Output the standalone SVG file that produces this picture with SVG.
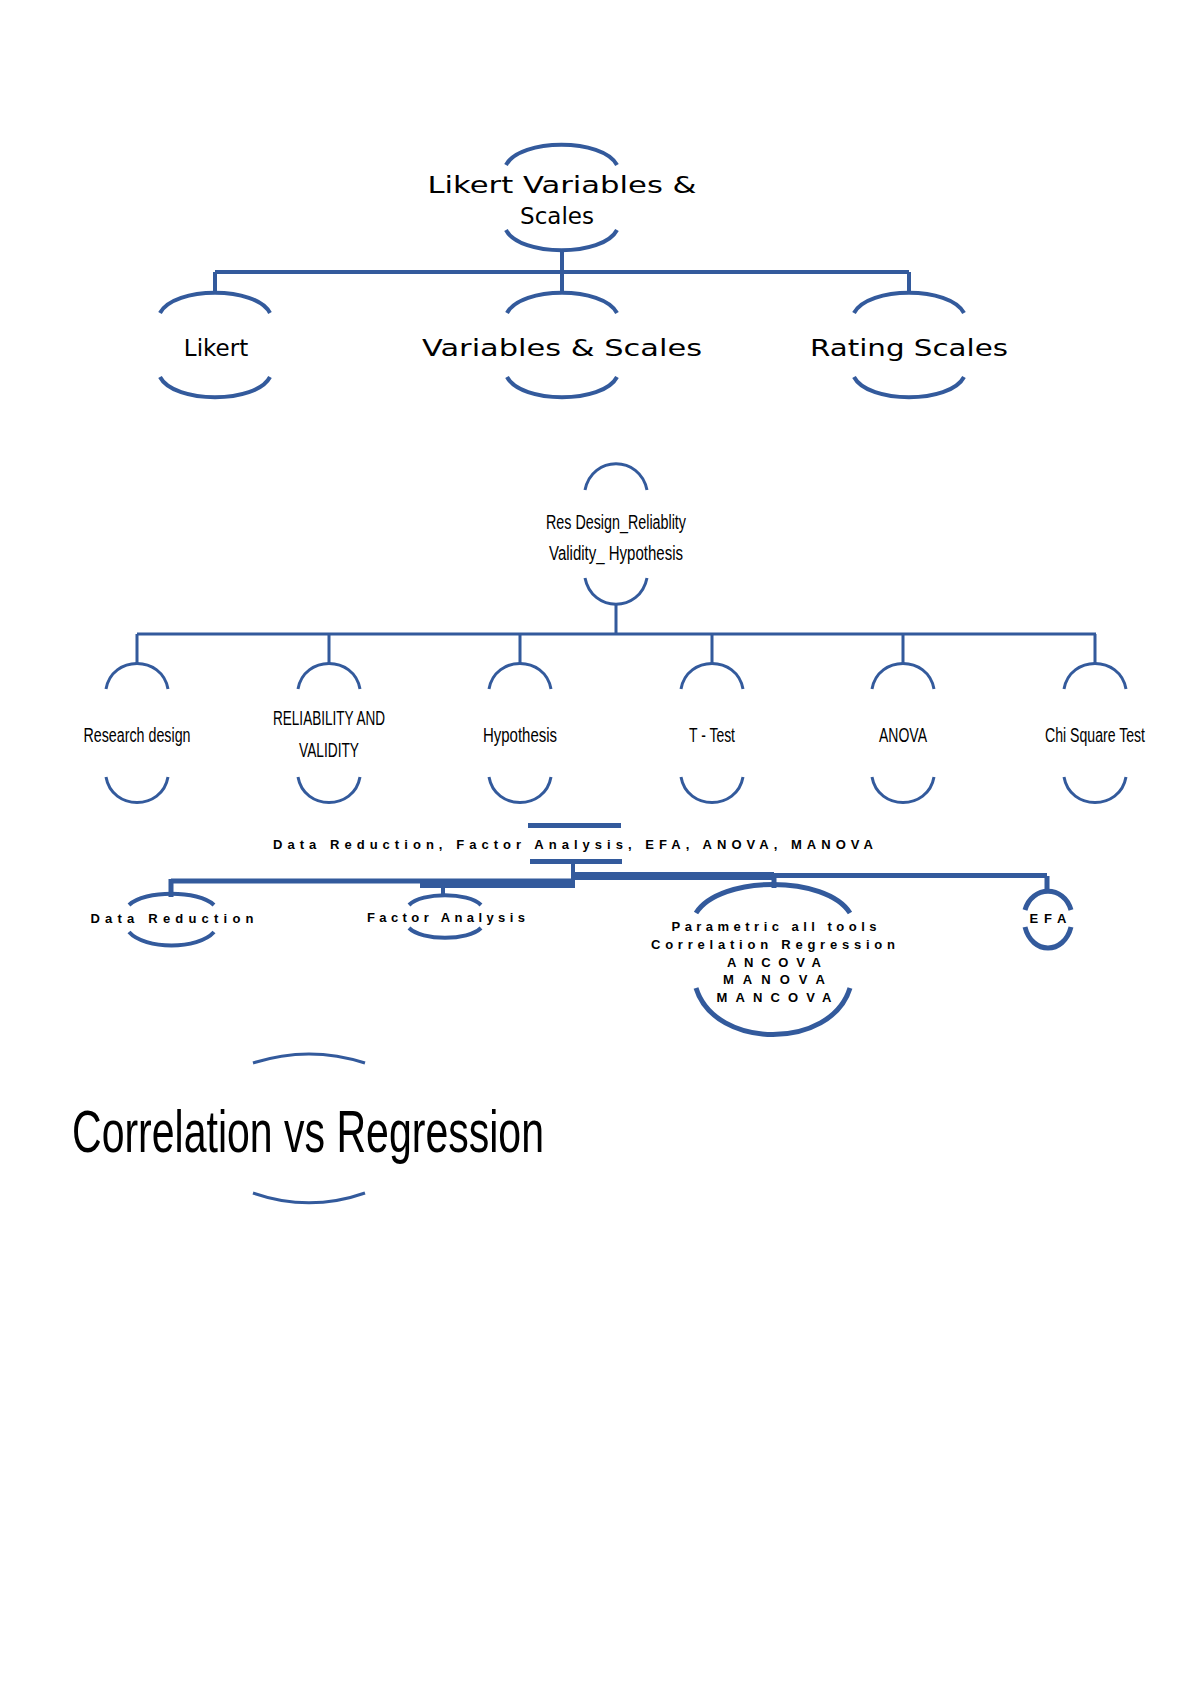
<svg xmlns="http://www.w3.org/2000/svg" width="1200" height="1698" viewBox="0 0 1200 1698">
<style>
.a{fill:none;stroke:#335a9c;stroke-width:4}
.m{fill:none;stroke:#335a9c;stroke-width:3}
.c{fill:none;stroke:#335a9c}
.t1{font-family:"DejaVu Sans",sans-serif;font-size:23px;fill:#000;text-anchor:middle;dominant-baseline:central}
.t2{font-family:"Liberation Sans",sans-serif;font-size:20px;fill:#000;text-anchor:middle;dominant-baseline:central}
.t3{font-family:"Liberation Sans",sans-serif;font-weight:bold;font-size:13px;fill:#000;text-anchor:middle;dominant-baseline:central}
.t4{font-family:"Liberation Sans",sans-serif;font-size:60px;fill:#000}
</style>
<rect width="1200" height="1698" fill="#fff"/>
<g id="connectors">
<path class="c" stroke-width="4" d="M562,250V272M215,272H909M215,272V293M562,272V293M909,272V293"/>
<path class="c" stroke-width="3" d="M616,605V634M137,634H1096M137,634V663M329,634V663M520,634V663M712,634V663M903,634V663M1095,634V663"/>
<path class="c" stroke-width="4" d="M573,861V883"/>
<path class="c" stroke-width="5" d="M171,881H575M171,879V897"/>
<rect x="420" y="882" width="155" height="6" fill="#335a9c"/>
<path class="c" stroke-width="4" d="M443,887V897"/>
<path class="c" stroke-width="8" d="M575,876H774"/>
<path class="c" stroke-width="5" d="M774,875.5H1047M774,878V888M1047,876V893"/>
</g>
<g id="n-top">
<path class="a" d="M506,165C520,138 603,138 617,165M506,230C520,257 603,257 617,230"/>
<text class="t1" x="562" y="185" textLength="269" lengthAdjust="spacingAndGlyphs">Likert Variables &amp;</text>
<text class="t1" x="557" y="216">Scales</text>
</g>
<g id="n-likert">
<path class="a" d="M160,313C174,286 256,286 270,313M160,377C174,404 256,404 270,377"/>
<text class="t1" x="216" y="348">Likert</text>
</g>
<g id="n-vs">
<path class="a" d="M507,313C521,286 603,286 617,313M507,377C521,404 603,404 617,377"/>
<text class="t1" x="562" y="348" textLength="280" lengthAdjust="spacingAndGlyphs">Variables &amp; Scales</text>
</g>
<g id="n-rs">
<path class="a" d="M854,313C868,286 950,286 964,313M854,377C868,404 950,404 964,377"/>
<text class="t1" x="909" y="348" textLength="198" lengthAdjust="spacingAndGlyphs">Rating Scales</text>
</g>
<g id="n-res">
<path class="m" d="M585,490C592,455 640,455 647,490M585,578C592,613 640,613 647,578"/>
<text class="t2" x="616" y="522" textLength="140" lengthAdjust="spacingAndGlyphs">Res Design_Reliablity</text>
<text class="t2" x="616" y="553" textLength="134" lengthAdjust="spacingAndGlyphs">Validity_ Hypothesis</text>
</g>
<g id="n-rd">
<path class="m" d="M106,689C112,655 162,655 168,689M106,777C112,811 162,811 168,777"/>
<text class="t2" x="137" y="735" textLength="107" lengthAdjust="spacingAndGlyphs">Research design</text>
</g>
<g id="n-rel">
<path class="m" d="M298,689C304,655 354,655 360,689M298,777C304,811 354,811 360,777"/>
<text class="t2" x="329" y="718" textLength="112" lengthAdjust="spacingAndGlyphs">RELIABILITY AND</text>
<text class="t2" x="329" y="750" textLength="60" lengthAdjust="spacingAndGlyphs">VALIDITY</text>
</g>
<g id="n-hyp">
<path class="m" d="M489,689C495,655 545,655 551,689M489,777C495,811 545,811 551,777"/>
<text class="t2" x="520" y="735" textLength="74" lengthAdjust="spacingAndGlyphs">Hypothesis</text>
</g>
<g id="n-tt">
<path class="m" d="M681,689C687,655 737,655 743,689M681,777C687,811 737,811 743,777"/>
<text class="t2" x="712" y="735" textLength="46" lengthAdjust="spacingAndGlyphs">T - Test</text>
</g>
<g id="n-anova">
<path class="m" d="M872,689C878,655 928,655 934,689M872,777C878,811 928,811 934,777"/>
<text class="t2" x="903" y="735" textLength="48" lengthAdjust="spacingAndGlyphs">ANOVA</text>
</g>
<g id="n-chi">
<path class="m" d="M1064,689C1070,655 1120,655 1126,689M1064,777C1070,811 1120,811 1126,777"/>
<text class="t2" x="1095" y="735" textLength="100" lengthAdjust="spacingAndGlyphs">Chi Square Test</text>
</g>
<g id="n-dr-title">
<rect x="528" y="823" width="93" height="5" fill="#335a9c"/>
<rect x="530" y="859" width="92" height="5" fill="#335a9c"/>
<text class="t3" x="573" y="844" textLength="600" lengthAdjust="spacing">Data Reduction, Factor Analysis, EFA,  ANOVA, MANOVA</text>
</g>
<g id="n-dr">
<path class="a" d="M129,905C145,890 198,890 214,905M129,932C145,950 198,950 214,932"/>
<text class="t3" x="172" y="918" textLength="163" lengthAdjust="spacing">Data Reduction</text>
</g>
<g id="n-fa">
<path class="a" d="M409,905C422,892 468,892 481,905M409,928C422,941 468,941 481,928"/>
<text class="t3" x="446" y="917" textLength="158" lengthAdjust="spacing">Factor Analysis</text>
</g>
<g id="n-par">
<path class="c" stroke-width="5" d="M696,913C720,875 826,875 850,913M696,988C715,1050 831,1050 850,988"/>
<text class="t3" x="774" y="926" textLength="205" lengthAdjust="spacing">Parametric all tools</text>
<text class="t3" x="773" y="944" textLength="244" lengthAdjust="spacing">Correlation Regression</text>
<text class="t3" x="774" y="962" textLength="94" lengthAdjust="spacing">ANCOVA</text>
<text class="t3" x="774" y="979" textLength="102" lengthAdjust="spacing">MANOVA</text>
<text class="t3" x="774" y="997" textLength="115" lengthAdjust="spacing">MANCOVA</text>
</g>
<g id="n-efa">
<path class="c" stroke-width="5" d="M1025,910C1032,885 1064,885 1071,910M1025,927C1032,955 1064,955 1071,927"/>
<text class="t3" x="1048" y="918" textLength="37" lengthAdjust="spacing">EFA</text>
</g>
<g id="n-corr">
<path class="c" stroke-width="3" d="M253,1063C290,1051 328,1051 365,1063M253,1193C290,1206 328,1206 365,1193"/>
<text class="t4" x="72" y="1152" textLength="472" lengthAdjust="spacingAndGlyphs">Correlation vs Regression</text>
</g>
</svg>
